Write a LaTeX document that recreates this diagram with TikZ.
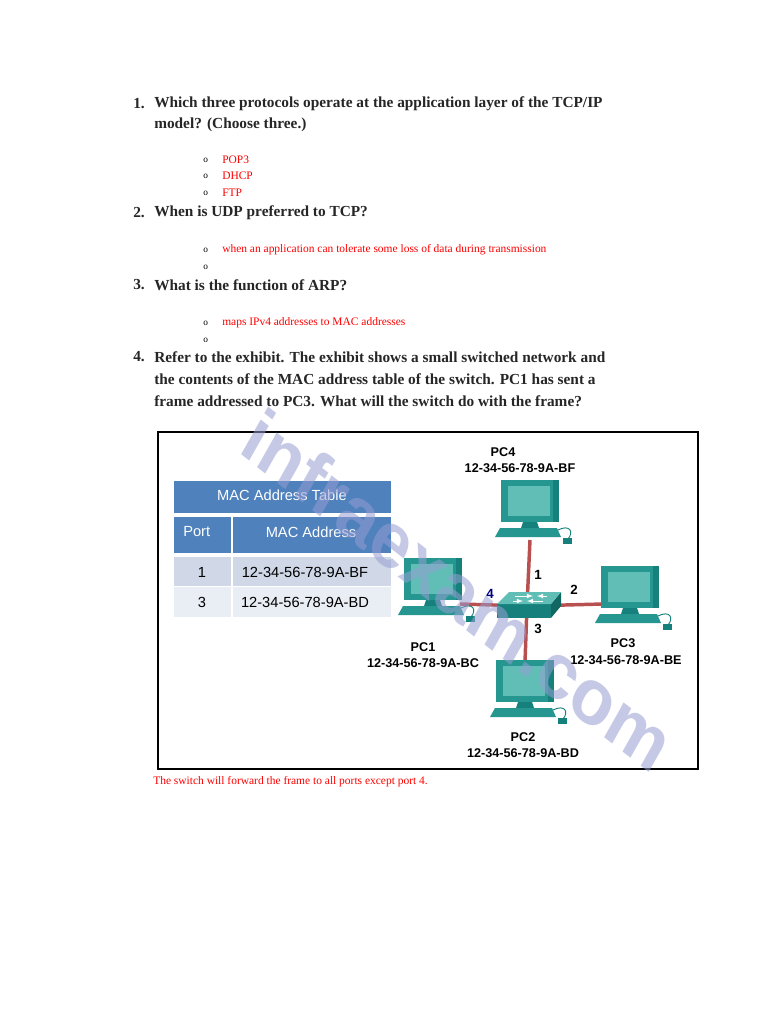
\documentclass[tikz,border=0pt]{standalone}
\usepackage{fontspec}
\setmainfont{Liberation Serif}
\newfontfamily\dsans{Liberation Sans}
\definecolor{hdr}{RGB}{79,129,189}
\definecolor{row1}{RGB}{208,216,232}
\definecolor{row2}{RGB}{233,237,244}
\definecolor{lnk}{RGB}{184,80,80}
\definecolor{pcdark}{RGB}{22,128,124}
\definecolor{pcmid}{RGB}{38,150,145}
\definecolor{pcscr}{RGB}{96,190,182}
\definecolor{wmk}{RGB}{150,158,210}
\begin{document}
\begin{tikzpicture}[x=0.75pt,y=-0.75pt,
  q/.style={anchor=west,inner sep=0,font=\bfseries\fontsize{11.5}{13}\selectfont,text=black!85},
  ans/.style={anchor=west,inner sep=0,font=\fontsize{8.6}{10}\selectfont,text=red},
  bul/.style={anchor=west,inner sep=0,font=\fontsize{7}{8}\selectfont},
  lab/.style={inner sep=0,font=\dsans\bfseries\fontsize{9.5}{11}\selectfont},
  port/.style={inner sep=0,font=\dsans\bfseries\fontsize{10}{11}\selectfont},
  th/.style={inner sep=0,font=\dsans\fontsize{11}{12}\selectfont,text=white},
  td/.style={inner sep=0,font=\dsans\fontsize{11}{12}\selectfont},
  link/.style={draw=lnk,line width=2.6pt},
  pcbox/.style={minimum width=56pt,minimum height=42pt,inner sep=0,draw=none},
  pics/pc/.style={code={
    \fill[pcmid] (-29,-32) rectangle (29,10);
    \fill[pcdark] (23,-32) rectangle (29,10);
    \fill[pcscr] (-22,-26) rectangle (20,4);
    \fill[pcdark] (-7,10) -- (7,10) -- (9,16) -- (-9,16) -- cycle;
    \fill[pcmid] (-30,16) -- (27,16) -- (31,25) -- (-35,25) -- cycle;
    \draw[pcdark,line width=0.7pt] (28,18) .. controls (40,12) and (44,20) .. (38,27);
    \fill[pcdark] (33,26) rectangle (42,32);
  }}]
\useasboundingbox (0,0) rectangle (768,1024);
\fill[white] (0,0) rectangle (768,1024);
% questions
\node[q] at (133,104) {1.};
\node[q] at (154,104) {Which three protocols operate at the application layer of the TCP/IP};
\node[q] at (154,125) {model? (Choose three.)};
\foreach \y/\t in {160/POP3,176/DHCP,193/FTP}{
  \node[bul] at (203,\y) {o}; \node[ans] at (222,\y) {\t};}
\node[q] at (133,213) {2.};
\node[q] at (154,213) {When is UDP preferred to TCP?};
\node[bul] at (203,250) {o};
\node[ans] at (222,250) {when an application can tolerate some loss of data during transmission};
\node[bul] at (203,267) {o};
\node[q] at (133,285) {3.};
\node[q] at (154,285) {What is the function of ARP?};
\node[bul] at (203,323) {o};
\node[ans] at (222,323) {maps IPv4 addresses to MAC addresses};
\node[bul] at (203,340) {o};
\node[q] at (133,357) {4.};
\node[q] at (154,357) {Refer to the exhibit. The exhibit shows a small switched network and};
\node[q] at (154,379) {the contents of the MAC address table of the switch. PC1 has sent a};
\node[q] at (154,401) {frame addressed to PC3. What will the switch do with the frame?};
% exhibit
\draw[line width=1pt] (158,432) rectangle (698,769);
\node[ans] at (153,782) {The switch will forward the frame to all ports except port 4.};
% table
\fill[hdr] (174,481) rectangle (391,513);
\fill[hdr] (174,517) rectangle (391,553);
\fill[row1] (174,557) rectangle (391,586);
\fill[row2] (174,587) rectangle (391,617);
\draw[white,line width=1pt] (232,517) -- (232,617);
\node[th] (tt) at (282,495) {MAC Address Table};
\node[th,anchor=west] (tp) at (183,532) {Port};
\node[th] (tm) at (311,532) {MAC Address};
\node[td] (r1p) at (202,572) {1};
\node[td] (r1m) at (305,572) {12-34-56-78-9A-BF};
\node[td] (r2p) at (202,602) {3};
\node[td] (r2m) at (305,602) {12-34-56-78-9A-BD};
% network nodes
\node[pcbox] (pc4) at (530,512) {};
\node[pcbox] (pc1) at (433,590) {};
\node[pcbox] (pc3) at (630,598) {};
\node[pcbox] (pc2) at (525,692) {};
\node[minimum width=44pt,minimum height=22pt,inner sep=0] (sw) at (527,606) {};
\draw[link] (sw.center) -- (530,540);
\draw[link] (sw.center) -- (460,604);
\draw[link] (sw.center) -- (603,604);
\draw[link] (sw.center) -- (525,662);
\pic at (pc4) {pc};
\pic at (pc1) {pc};
\pic at (pc3) {pc};
\pic at (pc2) {pc};
\begin{scope}[shift={(527,606)}]
  \fill[pcdark] (-30,-2) -- (24,-2) -- (24,12) -- (-30,12) -- cycle;
  \fill[pcdark!80!black] (24,-2) -- (34,-14) -- (34,0) -- (24,12) -- cycle;
  \fill[pcscr] (-30,-2) -- (-18,-14) -- (34,-14) -- (24,-2) -- cycle;
  \draw[white,line width=0.6pt,-latex] (-12,-10) -- (6,-10);
  \draw[white,line width=0.6pt,-latex] (20,-10) -- (10,-10);
  \draw[white,line width=0.6pt,-latex] (-14,-5) -- (-4,-5);
  \draw[white,line width=0.6pt,-latex] (16,-5) -- (0,-5);
\end{scope}
\node[port] (p1) at (538,575) {1};
\node[port] (p2) at (574,590) {2};
\node[port] (p3) at (538,629) {3};
\node[port,text=blue!50!black] (p4) at (490,594) {4};
\node[lab] (l4) at (503,452) {PC4};
\node[lab] (m4) at (520,468) {12-34-56-78-9A-BF};
\node[lab] (l1) at (423,647) {PC1};
\node[lab] (m1) at (423,663) {12-34-56-78-9A-BC};
\node[lab] (l3) at (623,643) {PC3};
\node[lab] (m3) at (626,660) {12-34-56-78-9A-BE};
\node[lab] (l2) at (523,737) {PC2};
\node[lab] (m2) at (523,753) {12-34-56-78-9A-BD};
% watermark
\node[opacity=0.55,text=wmk,font=\dsans\bfseries\fontsize{56}{56}\selectfont,rotate=-38,xslant=-0.15] (wm) at (458,590) {infraexam.com};
\end{tikzpicture}
\end{document}
